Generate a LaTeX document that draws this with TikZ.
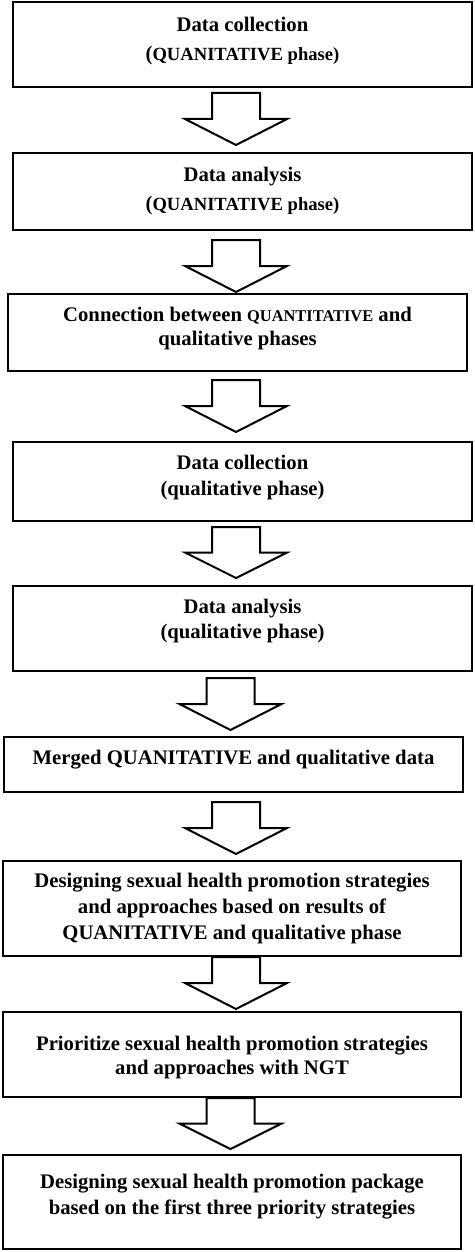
\documentclass[tikz,border=0pt]{standalone}
\usepackage{fontspec}
\setmainfont{Liberation Serif}
\usepackage{tikz}
\usetikzlibrary{calc}

\newcommand\quantsize{\fontsize{18.6}{25}\selectfont}
\newcommand\hollowarrow[5]{% from, to, axis x, gap at top, gap at tip
\path ($(#3,0 |- #1.south)+(0,#4)$) coordinate (top)
      ($(#3,0 |- #2.north)-(0,#5)$) coordinate (tip);
\draw[arrowline] let \p1=(top), \p2=(tip), \n1={(\y1+\y2)/2} in
  (\x1-24pt,\y1) -- (\x1-24pt,\n1) -- (\x1-51pt,\n1) -- (\x2,\y2)
  -- (\x1+51pt,\n1) -- (\x1+24pt,\n1) -- (\x1+24pt,\y1) -- cycle;
}

\begin{document}
\begin{tikzpicture}[x=1pt, y=-1pt,
  stepbox/.style={draw, line width=2.2pt, minimum width=458.5pt, inner sep=0pt},
  steptext/.style={anchor=north, align=center, inner sep=0pt,
    font=\fontsize{20.7}{25}\selectfont\bfseries},
  arrowline/.style={draw, line width=2pt, line join=miter}]
\useasboundingbox (0,0) rectangle (474,1252);

\node[stepbox, minimum height=84.8pt] (b1) at (242.5,44.5) {};
\node[stepbox, minimum height=76.8pt] (b2) at (242.5,191.5) {};
\node[stepbox, minimum height=76.8pt] (b3) at (237.5,332.5) {};
\node[stepbox, minimum height=78.8pt] (b4) at (242.5,481.5) {};
\node[stepbox, minimum height=84.8pt] (b5) at (242.5,628.5) {};
\node[stepbox, minimum height=54.8pt] (b6) at (233.5,764.5) {};
\node[stepbox, minimum height=94.8pt] (b7) at (232,908.5) {};
\node[stepbox, minimum height=84.8pt] (b8) at (232,1054.5) {};
\node[stepbox, minimum height=93.8pt] (b9) at (232,1202) {};

\node[steptext, font=\fontsize{20.7}{29}\selectfont\bfseries] (t1) at (242.5,16.5)
  {Data collection\\({\quantsize QUANITATIVE phase)}};
\node[steptext, font=\fontsize{20.7}{29}\selectfont\bfseries] (t2) at (242.5,166.5)
  {Data analysis\\({\quantsize QUANITATIVE phase)}};
\node[steptext, font=\fontsize{20.7}{24}\selectfont\bfseries] (t3) at (237.5,306.5)
  {Connection between {\fontsize{16.4}{24}\selectfont QUANTITATIVE} and\\qualitative phases};
\node[steptext, font=\fontsize{20.7}{26}\selectfont\bfseries] (t4) at (242.5,454.5)
  {Data collection\\(qualitative phase)};
\node[steptext] (t5) at (242.5,598.5) {Data analysis\\(qualitative phase)};
\node[steptext] (t6) at (233.5,750) {Merged QUANITATIVE and qualitative data};
\node[steptext, font=\fontsize{20.7}{26}\selectfont\bfseries] (t7) at (232,872.5)
  {Designing sexual health promotion strategies\\and approaches based on results of\\QUANITATIVE and qualitative phase};
\node[steptext, font=\fontsize{20.7}{24}\selectfont\bfseries] (t8) at (232,1035.5)
  {Prioritize sexual health promotion strategies\\and approaches with NGT};
\node[steptext, font=\fontsize{20.7}{26}\selectfont\bfseries] (t9) at (232,1173.5)
  {Designing sexual health promotion package\\based on the first three priority strategies};

\hollowarrow{b1}{b2}{236}{5}{7}
\hollowarrow{b2}{b3}{236}{9}{1}
\hollowarrow{b3}{b4}{236}{8}{9}
\hollowarrow{b4}{b5}{236}{5}{7}
\hollowarrow{b5}{b6}{230.5}{6}{6}
\hollowarrow{b6}{b7}{236}{9}{6}
\hollowarrow{b7}{b8}{236}{0}{2}
\hollowarrow{b8}{b9}{230.5}{0}{5}
\end{tikzpicture}
\end{document}
